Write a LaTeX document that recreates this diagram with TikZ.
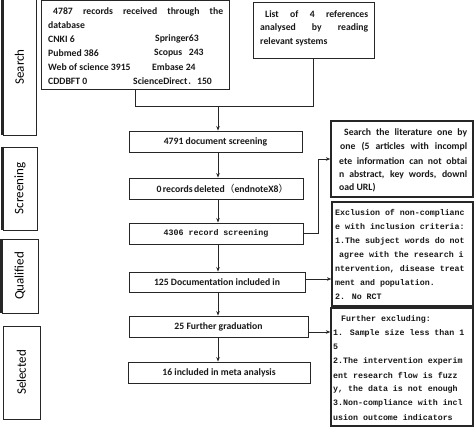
\documentclass[tikz,border=0pt]{standalone}
\usepackage{fontspec}
\setmainfont{Carlito}
\newfontfamily\monof{Liberation Mono}
\newfontfamily\cjk{Noto Sans CJK SC}
\usetikzlibrary{arrows.meta}
\begin{document}
\begin{tikzpicture}[x=1pt,y=-1pt,
  box/.style={draw=black!85, line width=0.9pt, inner sep=0pt, fill=white},
  rbox/.style={draw=black!85, line width=1.3pt, inner sep=0pt},
  stagebox/.style={draw=black!85, line width=0.9pt, inner sep=0pt},
  stagetxt/.style={font=\fontsize{13}{15}\selectfont, rotate=90, inner sep=0pt, text=black},
  txt/.style={font=\bfseries\fontsize{9.7}{11}\selectfont, inner sep=0pt, text=black!90},
  ltxt/.style={txt, anchor=west},
  mtxt/.style={font=\monof\bfseries\fontsize{8.3}{10}\selectfont, inner sep=0pt, text=black!90},
  lmtxt/.style={mtxt, anchor=west},
  arr/.style={draw=black!85, line width=0.9pt, -{Stealth[length=4.5pt,width=3.5pt]}},
  ln/.style={draw=black!85, line width=0.9pt}]
\useasboundingbox (0,0) rectangle (474,427);
\fill[white] (0,0) rectangle (474,427);

% stage boxes
\node[stagebox, minimum width=33, minimum height=136] (sSearch) at (19.5,67) {};
\node[stagebox, minimum width=34, minimum height=83] (sScreen) at (20,188.5) {};
\node[stagebox, minimum width=36, minimum height=74] (sQual) at (20,276) {};
\node[stagebox, minimum width=37, minimum height=93] (sSel) at (21.5,372.5) {};
\draw[black!85, line width=2.4pt] (sSearch.north west) -- (sSearch.south west);
\draw[black!85, line width=2.2pt] (sScreen.north west) -- (sScreen.south west);
\draw[black!85, line width=2.4pt] (sQual.north west) -- (sQual.south west);
\node[stagetxt] (lSearch) at (sSearch.center) {Search};
\node[stagetxt] (lScreen) at (sScreen.center) {Screening};
\node[stagetxt] (lQual) at (sQual.center) {Qualified};
\node[stagetxt] (lSel) at (sSel.center) {Selected};

% database box
\node[box, minimum width=188, minimum height=88.5] (db) at (135,44.75) {};
\node[ltxt] (d1) at (53,12) {\makebox[170pt][s]{4787 records received through the}};
\node[ltxt] (d2) at (48,25) {database};
\node[ltxt] (d3) at (48,39) {CNKI 6};
\node[ltxt] (d4) at (155,39) {Springer63};
\node[ltxt] (d5) at (48,53) {Pubmed 386};
\node[ltxt] (d6) at (154,53) {Scopus\ \ \ 243};
\node[ltxt] (d7) at (48,67) {Web of science 3915};
\node[ltxt] (d8) at (152,67) {Embase 24};
\node[ltxt] (d9) at (48,81) {CDDBFT 0};
\node[ltxt] (d10) at (133,81) {ScienceDirect{\cjk\mdseries ．}150};

% list box
\node[box, minimum width=121, minimum height=56] (list) at (313.5,30) {};
\node[ltxt] (l1) at (265,14) {\makebox[103pt][s]{List of 4 references}};
\node[ltxt] (l2) at (260,28) {\makebox[108pt][s]{analysed by reading}};
\node[ltxt] (l3) at (260,42) {relevant systems};

% middle column
\node[box, minimum width=173, minimum height=21, txt] (b4791) at (215.5,141.5) {4791 document screening};
\node[box, minimum width=174, minimum height=21, txt] (b0) at (216,188.5) {\makebox[119pt][s]{0 records deleted{\cjk\mdseries （}endnoteX8{\cjk\mdseries ）}}};
\node[box, minimum width=174, minimum height=21, mtxt] (b4306) at (216,233.5) {4306 record screening};
\node[box, minimum width=176, minimum height=20, txt] (b125) at (217,282) {125 Documentation included in};
\node[box, minimum width=179, minimum height=21, txt] (b25) at (218.5,326.5) {25 Further graduation};
\node[box, minimum width=182, minimum height=21, txt] (b16) at (219,372.5) {16 included in meta analysis};

% right boxes
\node[rbox, minimum width=142, minimum height=76] (srch) at (402,159) {};
\node[ltxt] (s1) at (344,133) {\makebox[123pt][s]{Search the literature one by}};
\node[ltxt] (s2) at (340,147) {\makebox[127pt][s]{one (5 articles with incompl}};
\node[ltxt] (s3) at (339,161) {\makebox[128pt][s]{ete information can not obtai}};
\node[ltxt] (s4) at (339,175) {\makebox[128pt][s]{n abstract, key words, downl}};
\node[ltxt] (s5) at (339,188) {oad URL)};

\node[rbox, minimum width=141, minimum height=104] (excl) at (402.5,254) {};
\node[lmtxt] (e1) at (335,213) {Exclusion of non-complianc};
\node[lmtxt] (e2) at (335,227) {e with inclusion criteria:};
\node[lmtxt] (e3) at (335,241) {1.The subject words do not};
\node[lmtxt] (e4) at (339,255) {agree with the research i};
\node[lmtxt] (e5) at (335,269) {ntervention, disease treat};
\node[lmtxt] (e6) at (335,283) {ment and population.};
\node[lmtxt] (e7) at (335,297) {2. No RCT};

\node[rbox, minimum width=142, minimum height=118] (furth) at (402,367) {};
\node[lmtxt] (f1) at (341,319) {Further excluding:};
\node[lmtxt] (f2) at (333,333) {1. Sample size less than 1};
\node[lmtxt] (f3) at (333,347) {5};
\node[lmtxt] (f4) at (333,361) {2.The intervention experim};
\node[lmtxt] (f5) at (333,375) {ent research flow is fuzz};
\node[lmtxt] (f6) at (333,389) {y, the data is not enough};
\node[lmtxt] (f7) at (333,403) {3.Non-compliance with incl};
\node[lmtxt] (f8) at (333,418) {usion outcome indicators};

% connectors
\coordinate (jn) at (218,106);
\draw[ln] (db.south) -- (db.south |- jn) -- (list.south |- jn) -- (list.south);
\draw[arr] (jn) -- (jn |- b4791.north);
\draw[arr] (jn |- b4791.south) -- (jn |- b0.north);
\draw[arr] (jn |- b0.south) -- (jn |- b4306.north);
\draw[arr] (jn |- b4306.south) -- (jn |- b125.north);
\draw[arr] (jn |- b125.south) -- (jn |- b25.north);
\draw[arr] (jn |- b25.south) -- (jn |- b16.north);
\coordinate (k1) at (318,0);
\draw[arr] (b4306.east) -- (b4306.east -| k1) |- (srch.west);
\draw[arr] ([yshift=3pt]b125.east) -- ([yshift=3pt]b125.east -| excl.west);
\draw[arr] ([yshift=-5.5pt]b25.east) -- ([yshift=-5.5pt]b25.east -| furth.west);
\end{tikzpicture}
\end{document}
